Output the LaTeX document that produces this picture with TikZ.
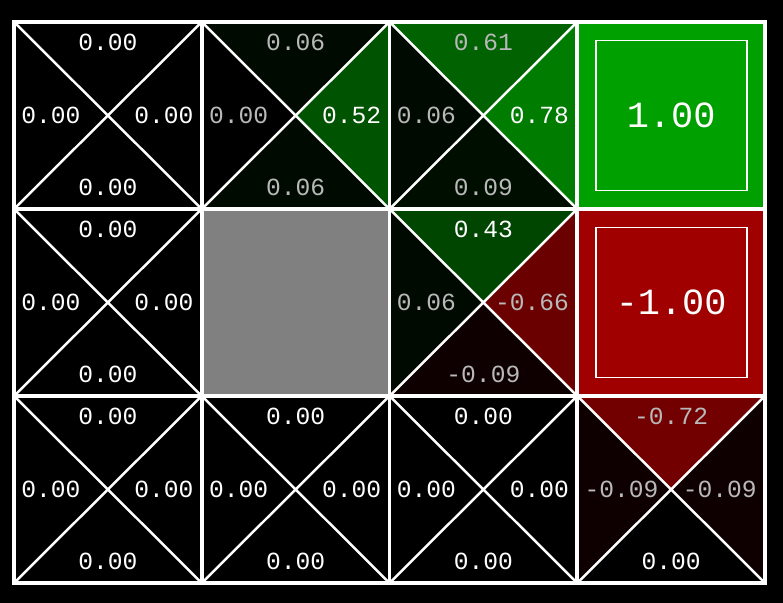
\documentclass[tikz,border=0pt]{standalone}
\usepackage{fontspec}
\setmonofont{Liberation Mono}
\usetikzlibrary{calc}
\definecolor{qPos}{RGB}{0,160,0}
\definecolor{qNeg}{RGB}{160,0,0}
\definecolor{qWall}{RGB}{128,128,128}
\definecolor{qMuted}{RGB}{185,185,185}

\begin{document}
\begin{tikzpicture}[
    x=3.755cm,y=3.74cm,
    qgrid/.style={draw=white,line width=2pt,line cap=rect},
    qdiag/.style={draw=white,line width=1.4pt},
    qlbl/.style={font=\ttfamily\fontsize{14}{14}\selectfont,inner sep=0pt},
    qterm/.style={
        draw=white,line width=1.1pt,minimum width=3.02cm,minimum height=3cm,
        text=white,font=\ttfamily\fontsize{21}{21}\selectfont
    }
    ]
    \path[use as bounding box,fill=black] (-0.28cm,-0.40cm) rectangle (15.38cm,11.66cm);

    % value cells: col/row/N/W/E/S, row 0 on top
    \foreach \col/\row/\vn/\vw/\ve/\vs in {
        0/0/0.00/0.00/0.00/0.00, 1/0/0.06/0.00/0.52/0.06, 2/0/0.61/0.06/0.78/0.09,
        0/1/0.00/0.00/0.00/0.00, 2/1/0.43/0.06/-0.66/-0.09,
        0/2/0.00/0.00/0.00/0.00, 1/2/0.00/0.00/0.00/0.00, 2/2/0.00/0.00/0.00/0.00,
        3/2/-0.72/-0.09/-0.09/0.00}{
        \pgfmathsetmacro\vmax{max(\vn,\vw,\ve,\vs)}
        \coordinate (m)  at (\col+0.5,2.5-\row);
        \coordinate (sw) at (\col,2-\row);
        \coordinate (se) at (\col+1,2-\row);
        \coordinate (ne) at (\col+1,3-\row);
        \coordinate (nw) at (\col,3-\row);
        \foreach \v/\p/\q/\side/\dx/\dy/\anc in {
            \vn/nw/ne/n/0/-0.40/center, \vw/sw/nw/w/0.14/0/west,
            \ve/se/ne/e/-0.16/0/east, \vs/sw/se/s/0/0.44/center}{
            \pgfmathtruncatemacro\qneg{\v<0}
            \pgfmathtruncatemacro\qpct{round(abs(\v)*100)}
            \pgfmathtruncatemacro\qbest{\v==\vmax}
            \ifnum\qneg=1 \def\qbase{qNeg}\else\def\qbase{qPos}\fi
            \ifnum\qbest=1 \def\qtxt{white}\else\def\qtxt{qMuted}\fi
            \fill[\qbase!\qpct!black] (m) -- (\p) -- (\q) -- cycle;
            \node[qlbl,text=\qtxt,anchor=\anc,xshift=\dx cm,yshift=\dy cm]
                (q\col\row\side) at ($(\p)!0.5!(\q)$) {\v};
        }
        \draw[qdiag] (sw) -- (ne) (nw) -- (se);
    }

    % wall and terminal cells
    \fill[qWall] (1,1) rectangle (2,2);
    \fill[qPos] (3,2) rectangle (4,3);
    \fill[qNeg] (3,1) rectangle (4,2);
    \node[qterm] (goal) at (3.5,2.5) {1.00};
    \node[qterm] (pit)  at (3.5,1.5) {-1.00};

    \foreach \i in {0,...,4} \draw[qgrid] (\i,0) -- (\i,3);
    \foreach \j in {0,...,3} \draw[qgrid] (0,\j) -- (4,\j);
\end{tikzpicture}
\end{document}
